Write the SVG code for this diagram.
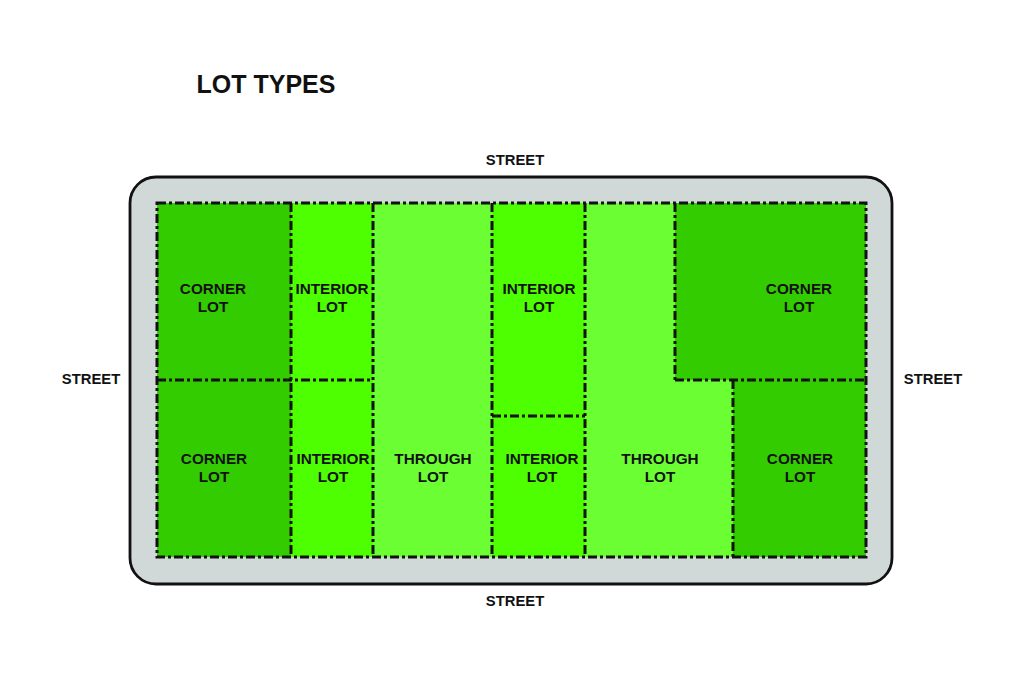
<svg xmlns="http://www.w3.org/2000/svg" width="1024" height="683" viewBox="0 0 1024 683">
<style>
text{font-family:"Liberation Sans",Arial,sans-serif;font-weight:bold;fill:#111;text-anchor:middle}
.lbl{font-size:15.3px}
.st{font-size:14.8px}
.corner{fill:#33cc00}
.interior{fill:#4dff00}
.through{fill:#6bff33}
.ln{stroke:#111;stroke-width:3;fill:none;stroke-dasharray:9 3 3 3}
</style>
<rect width="1024" height="683" fill="#fff"/>
<text x="266" y="93" style="font-size:25px">LOT TYPES</text>
<g id="block">
<rect x="130" y="177" width="762" height="407" rx="26" fill="#d1d9d8" stroke="#111" stroke-width="2.8"/>
</g>
<g id="streets">
<text class="st" x="515" y="165">STREET</text>
<text class="st" x="515" y="606">STREET</text>
<text class="st" x="91" y="384">STREET</text>
<text class="st" x="933" y="384">STREET</text>
</g>
<g id="lot-corner-tl"><rect class="corner" x="157" y="203" width="134" height="177"/><text class="lbl" x="213" y="294">CORNER</text><text class="lbl" x="213" y="312">LOT</text></g>
<g id="lot-corner-bl"><rect class="corner" x="157" y="380" width="134" height="177"/><text class="lbl" x="214" y="464">CORNER</text><text class="lbl" x="214" y="482">LOT</text></g>
<g id="lot-interior-1"><rect class="interior" x="291" y="203" width="82" height="177"/><text class="lbl" x="332" y="294">INTERIOR</text><text class="lbl" x="332" y="312">LOT</text></g>
<g id="lot-interior-2"><rect class="interior" x="291" y="380" width="82" height="177"/><text class="lbl" x="333" y="464">INTERIOR</text><text class="lbl" x="333" y="482">LOT</text></g>
<g id="lot-through-1"><rect class="through" x="373" y="203" width="119" height="354"/><text class="lbl" x="433" y="464">THROUGH</text><text class="lbl" x="433" y="482">LOT</text></g>
<g id="lot-interior-3"><rect class="interior" x="492" y="203" width="93" height="213"/><text class="lbl" x="539" y="294">INTERIOR</text><text class="lbl" x="539" y="312">LOT</text></g>
<g id="lot-interior-4"><rect class="interior" x="492" y="416" width="93" height="141"/><text class="lbl" x="542" y="464">INTERIOR</text><text class="lbl" x="542" y="482">LOT</text></g>
<g id="lot-through-2"><path class="through" d="M585 203H675V380H733V557H585Z"/><text class="lbl" x="660" y="464">THROUGH</text><text class="lbl" x="660" y="482">LOT</text></g>
<g id="lot-corner-tr"><rect class="corner" x="675" y="203" width="191" height="177"/><text class="lbl" x="799" y="294">CORNER</text><text class="lbl" x="799" y="312">LOT</text></g>
<g id="lot-corner-br"><rect class="corner" x="733" y="380" width="133" height="177"/><text class="lbl" x="800" y="464">CORNER</text><text class="lbl" x="800" y="482">LOT</text></g>
<g id="lot-lines">
<rect class="ln" x="157" y="203" width="709" height="354"/>
<path class="ln" d="M291 203V557M373 203V557M492 203V557M585 203V557M675 203V380M733 380V557M157 380H373M675 380H866M492 416H585"/>
</g>
</svg>
